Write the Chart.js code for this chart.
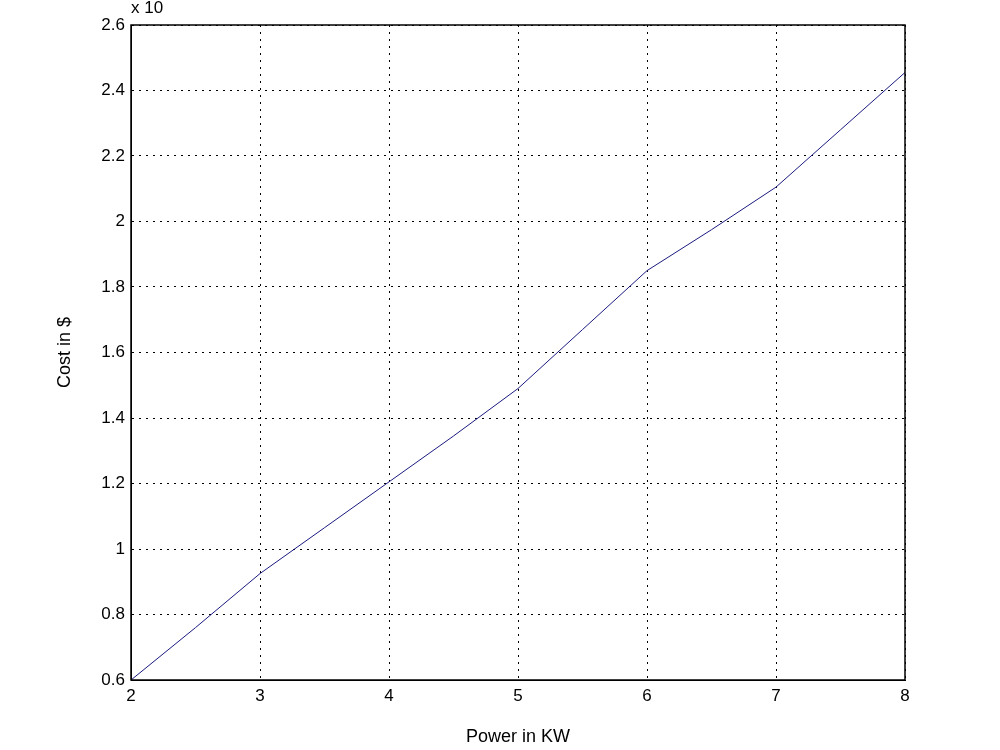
<!DOCTYPE html>
<html>
<head>
<meta charset="utf-8">
<script src="https://cdn.jsdelivr.net/npm/chart.js@4/dist/chart.umd.min.js"></script>
<style>
  html, body { margin: 0; padding: 0; background: #fff; }
  #wrap { width: 1000px; height: 750px; }
</style>
</head>
<body>
<div id="wrap"><canvas id="costChart" width="1000" height="750"></canvas></div>
<script>
// Power (kW) vs cost (x 10^4 $)
const powerKw = [2, 2.5, 3, 3.5, 4, 4.5, 5, 5.5, 6, 6.5, 7, 7.5, 8];
const costValues = [0.6, 0.76, 0.925, 1.065, 1.205, 1.345, 1.49, 1.67, 1.85, 1.975, 2.105, 2.28, 2.455];
const yTicks = [0.6, 0.8, 1, 1.2, 1.4, 1.6, 1.8, 2, 2.2, 2.4, 2.6];

Chart.defaults.font.family = "'Liberation Sans', Arial, sans-serif";
Chart.defaults.color = "#000";

// solid frame around the plot plus the "x 10" exponent label
const frameAndExponent = {
  id: "frameAndExponent",
  afterDraw(chart) {
    const ctx = chart.ctx;
    const a = chart.chartArea;
    ctx.save();
    ctx.strokeStyle = "#000";
    ctx.lineWidth = 1.5;
    ctx.strokeRect(a.left, a.top, a.right - a.left, a.bottom - a.top);
    ctx.fillStyle = "#000";
    ctx.font = "17px 'Liberation Sans', Arial, sans-serif";
    ctx.textBaseline = "bottom";
    ctx.fillText("x 10", a.left, a.top - 8);
    ctx.restore();
  },
};

new Chart(document.getElementById("costChart").getContext("2d"), {
  type: "line",
  data: {
    datasets: [
      {
        data: powerKw.map((x, i) => ({ x: x, y: costValues[i] })),
        borderColor: "#1a1a80",
        borderWidth: 1,
        pointRadius: 0,
        tension: 0,
      },
    ],
  },
  options: {
    responsive: false,
    animation: false,
    layout: { padding: { top: 25, right: 95, left: 50, bottom: 0 } },
    plugins: { legend: { display: false }, tooltip: { enabled: false } },
    scales: {
      x: {
        type: "linear",
        min: 2,
        max: 8,
        ticks: { stepSize: 1, font: { size: 17 }, padding: 6 },
        grid: { color: "#000", lineWidth: 1, tickLength: 0 },
        border: { color: "#000", width: 1, dash: [2, 5] },
        title: { display: true, text: "Power in KW", font: { size: 18 }, padding: 2 },
        afterFit(scale) { scale.height = 70; },
      },
      y: {
        min: 0.6,
        max: 2.6,
        afterBuildTicks(scale) { scale.ticks = yTicks.map(v => ({ value: v })); },
        ticks: { font: { size: 17 }, padding: 6, callback: v => String(Number(v.toFixed(1))) },
        grid: { color: "#000", lineWidth: 1, tickLength: 0 },
        border: { color: "#000", width: 1, dash: [2, 5] },
        title: { display: true, text: "Cost in $", font: { size: 18 }, padding: 4 },
        afterFit(scale) { scale.width = 81; },
      },
    },
  },
  plugins: [frameAndExponent],
});
</script>
</body>
</html>
